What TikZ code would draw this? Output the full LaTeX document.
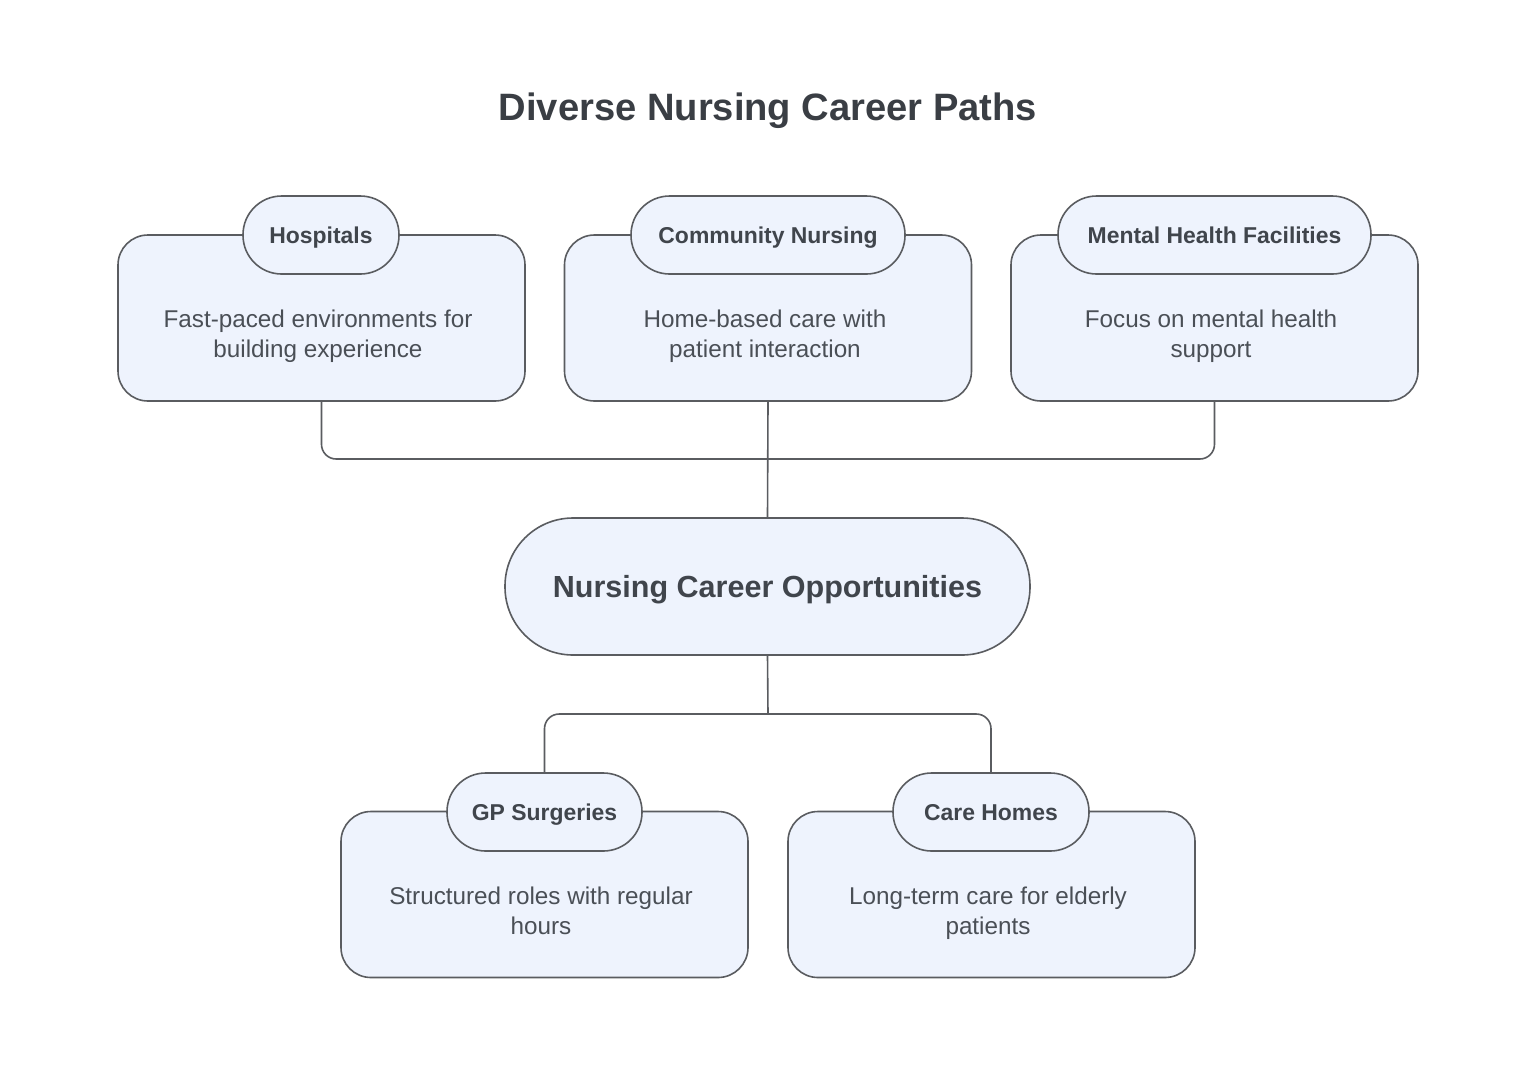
\documentclass[tikz,border=0pt]{standalone}
\usepackage{fontspec}
\setmainfont{Liberation Sans}
\definecolor{boxfill}{HTML}{EEF3FD}
\definecolor{boxline}{HTML}{5A5C60}
\definecolor{txt}{HTML}{40454C}
\definecolor{bodytxt}{HTML}{4A4F56}
\begin{document}
\begin{tikzpicture}[x=0.75pt,y=-0.75pt,
  card/.style={draw=boxline,fill=boxfill,line width=1.2pt,rounded corners=22.5pt,minimum width=305.25pt,minimum height=124.5pt,inner sep=0pt},
  tab/.style={draw=boxline,fill=boxfill,line width=1.2pt,rounded corners=29pt,minimum height=58.5pt,inner sep=0pt,text height=12.4pt,text depth=0pt,font=\bfseries\fontsize{17.2}{21}\selectfont,text=txt},
  body/.style={align=center,font=\fontsize{18.2}{22.5}\selectfont,text=bodytxt,inner sep=0pt,text depth=0.22em},
  conn/.style={draw=boxline,line width=1.2pt,rounded corners=11pt}]
\useasboundingbox[fill=white] (0,0) rectangle (1536,1076);
\node[font=\bfseries\fontsize{28.6}{34}\selectfont,text=txt!90!black,text height=20.6pt,text depth=0pt,inner sep=0pt] (title) at (768,107) {Diverse Nursing Career Paths};
% top cards
\node[card] (b1) at (321.5,318) {};
\node[card] (b2) at (768,318) {};
\node[card] (b3) at (1214.5,318) {};
\node[tab,minimum width=117pt] (t1) at (321,235) {Hospitals};
\node[tab,minimum width=205.5pt] (t2) at (768,235) {Community Nursing};
\node[tab,minimum width=234.75pt] (t3) at (1214.5,235) {Mental Health Facilities};
\node[body] (d1) at (318,335) {Fast-paced environments for\\building experience};
\node[body] (d2) at (765,335) {Home-based care with\\patient interaction};
\node[body] (d3) at (1211,335) {Focus on mental health\\support};
% center
\node[draw=boxline,fill=boxfill,line width=1.2pt,rounded corners=51pt,minimum width=393.75pt,minimum height=102.75pt,inner sep=0pt,text height=16.5pt,text depth=0pt,font=\bfseries\fontsize{22.9}{28}\selectfont,text=txt] (c) at (767.5,586.5) {Nursing Career Opportunities};
% bottom cards
\node[card] (b4) at (544.5,894.5) {};
\node[card] (b5) at (991.5,894.5) {};
\node[tab,minimum width=146.25pt] (t4) at (544.5,812) {GP Surgeries};
\node[tab,minimum width=147pt] (t5) at (991,812) {Care Homes};
\node[body] (d4) at (541,912) {Structured roles with regular\\hours};
\node[body] (d5) at (988,912) {Long-term care for elderly\\patients};
% connectors
\coordinate (j1) at (768,459);
\coordinate (j2) at (768,714);
\draw[conn] (b1.south) |- (j1) -| (b3.south);
\draw[conn] (b2.south) -- (c.north);
\draw[conn] (c.south) -- (j2);
\draw[conn] (t4.north) |- (j2) -| (t5.north);
\end{tikzpicture}
\end{document}
